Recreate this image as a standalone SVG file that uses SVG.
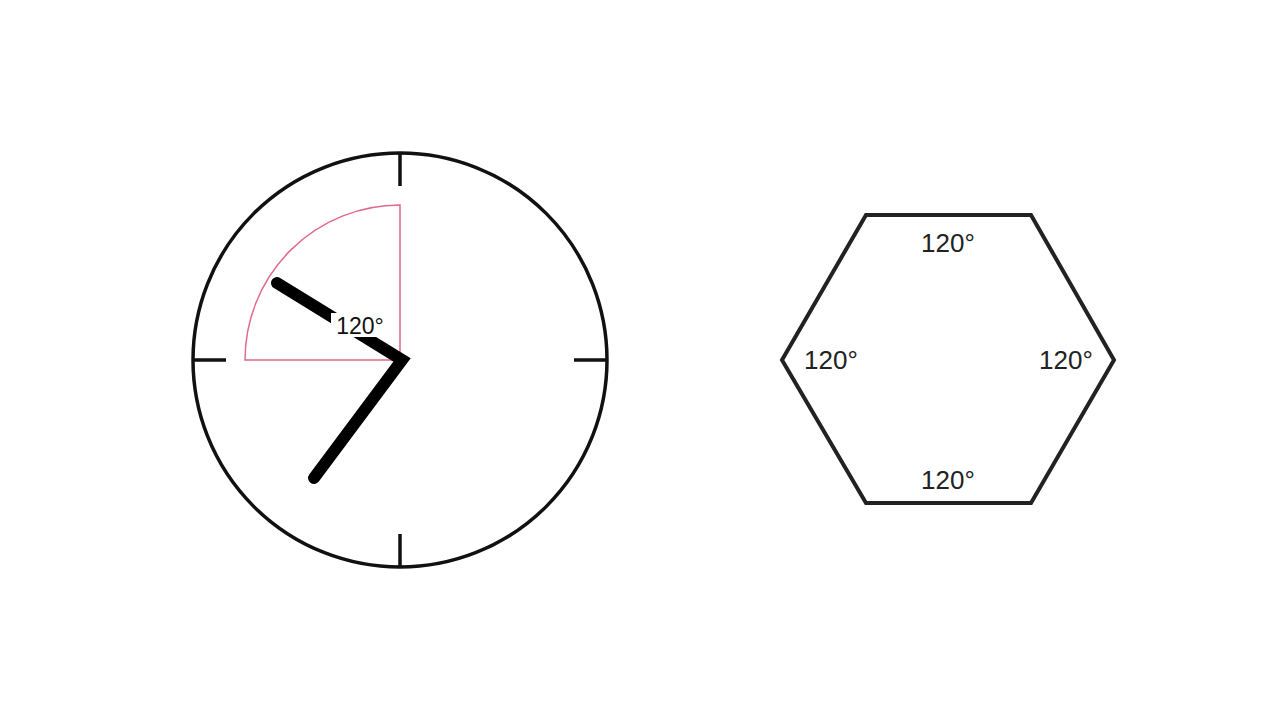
<svg xmlns="http://www.w3.org/2000/svg" width="1280" height="720" viewBox="0 0 1280 720">
<style>
.line{fill:none;stroke:#111;stroke-width:3.5}
.hand{stroke:#000;stroke-width:12;stroke-linecap:round;fill:none}
.lbl{font-family:"Liberation Sans",Arial,sans-serif;font-size:26px;fill:#222;text-anchor:middle}
</style>
<rect width="1280" height="720" fill="#fff"/>
<g id="clock">
<circle cx="400" cy="360" r="207" class="line"/>
<path d="M400 153V186M400 534V567M193 360H226M574 360H607" class="line"/>
<path d="M400 360H245A155 155 0 0 1 400 205Z" fill="none" stroke="#e06a88" stroke-width="1.5"/>
<path d="M277 283L402 360L314 478" class="hand" stroke-linejoin="miter"/>
<rect x="331" y="313" width="58" height="24" fill="#fff"/>
<text x="360" y="334" class="lbl" style="font-size:23px;fill:#111">120°</text>
</g>
<g id="hexagon">
<polygon points="866,215 1031,215 1114,360 1031,503 866,503 782,360" fill="none" stroke="#222" stroke-width="4" stroke-linejoin="miter"/>
<text x="948" y="252" class="lbl">120°</text>
<text x="831" y="369" class="lbl">120°</text>
<text x="1066" y="369" class="lbl">120°</text>
<text x="948" y="489" class="lbl">120°</text>
</g>
</svg>
